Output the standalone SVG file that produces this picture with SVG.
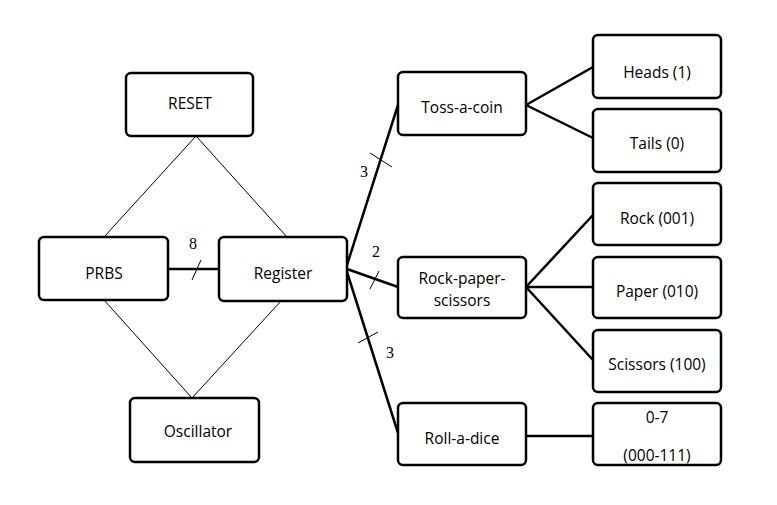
<svg xmlns="http://www.w3.org/2000/svg" width="777" height="505" viewBox="0 0 777 505">
<style>
.b{fill:#fff;stroke:#000;stroke-width:2.5}
.t{font-family:"Open Sans","Liberation Sans",sans-serif;font-size:15.5px;text-anchor:middle;fill:#000}
.n{font-family:"Liberation Serif",serif;font-size:16px;text-anchor:middle;fill:#000}
.th{stroke:#000;stroke-width:1;fill:none}
.tk{stroke:#000;stroke-width:2.5;fill:none}
</style>
<rect width="777" height="505" fill="#fff"/>
<g id="connectors">
<path class="th" d="M196 136L104 237M196 136L287 237M104 300L192 398M281 301L192 398"/>
<path class="tk" d="M168 269H219M347 265L398 105M347 269L398 287M347 272L398 433M526 105L593 67M526 105L593 138M526 287L593 215M526 287H593M526 287L593 360M526 436H593"/>
<path class="th" d="M192 280L201 260M370 153L392 167M370 289L379 271M358 343L378 332"/>
<text class="n" x="193" y="249">8</text>
<text class="n" x="364" y="177">3</text>
<text class="n" x="376" y="257">2</text>
<text class="n" x="390" y="358">3</text>
</g>
<g id="reset"><rect class="b" x="126" y="73" width="127" height="63" rx="5"/><text class="t" x="190" y="109">RESET</text></g>
<g id="prbs"><rect class="b" x="39" y="237" width="129" height="63" rx="5"/><text class="t" x="104" y="279">PRBS</text></g>
<g id="register"><rect class="b" x="219" y="237" width="128" height="64" rx="5"/><text class="t" x="283" y="279">Register</text></g>
<g id="oscillator"><rect class="b" x="130" y="398" width="129" height="64" rx="5"/><text class="t" x="198" y="437">Oscillator</text></g>
<g id="toss"><rect class="b" x="398" y="72" width="128" height="63" rx="5"/><text class="t" x="462" y="113">Toss-a-coin</text></g>
<g id="rps"><rect class="b" x="398" y="257" width="128" height="61" rx="5"/><text class="t" x="462" y="284">Rock-paper-</text><text class="t" x="462" y="306">scissors</text></g>
<g id="roll"><rect class="b" x="398" y="403" width="128" height="62" rx="5"/><text class="t" x="462" y="444">Roll-a-dice</text></g>
<g id="heads"><rect class="b" x="593" y="35" width="128" height="63" rx="5"/><text class="t" x="657" y="78">Heads (1)</text></g>
<g id="tails"><rect class="b" x="593" y="109" width="128" height="63" rx="5"/><text class="t" x="657" y="149">Tails (0)</text></g>
<g id="rock"><rect class="b" x="593" y="183" width="128" height="62" rx="5"/><text class="t" x="657" y="224">Rock (001)</text></g>
<g id="paper"><rect class="b" x="593" y="257" width="128" height="61" rx="5"/><text class="t" x="657" y="297">Paper (010)</text></g>
<g id="scissors"><rect class="b" x="593" y="330" width="128" height="62" rx="5"/><text class="t" x="657" y="370">Scissors (100)</text></g>
<g id="dice"><rect class="b" x="593" y="403" width="128" height="62" rx="5"/><text class="t" x="657" y="423">0-7</text><text class="t" x="657" y="461">(000-111)</text></g>
</svg>
